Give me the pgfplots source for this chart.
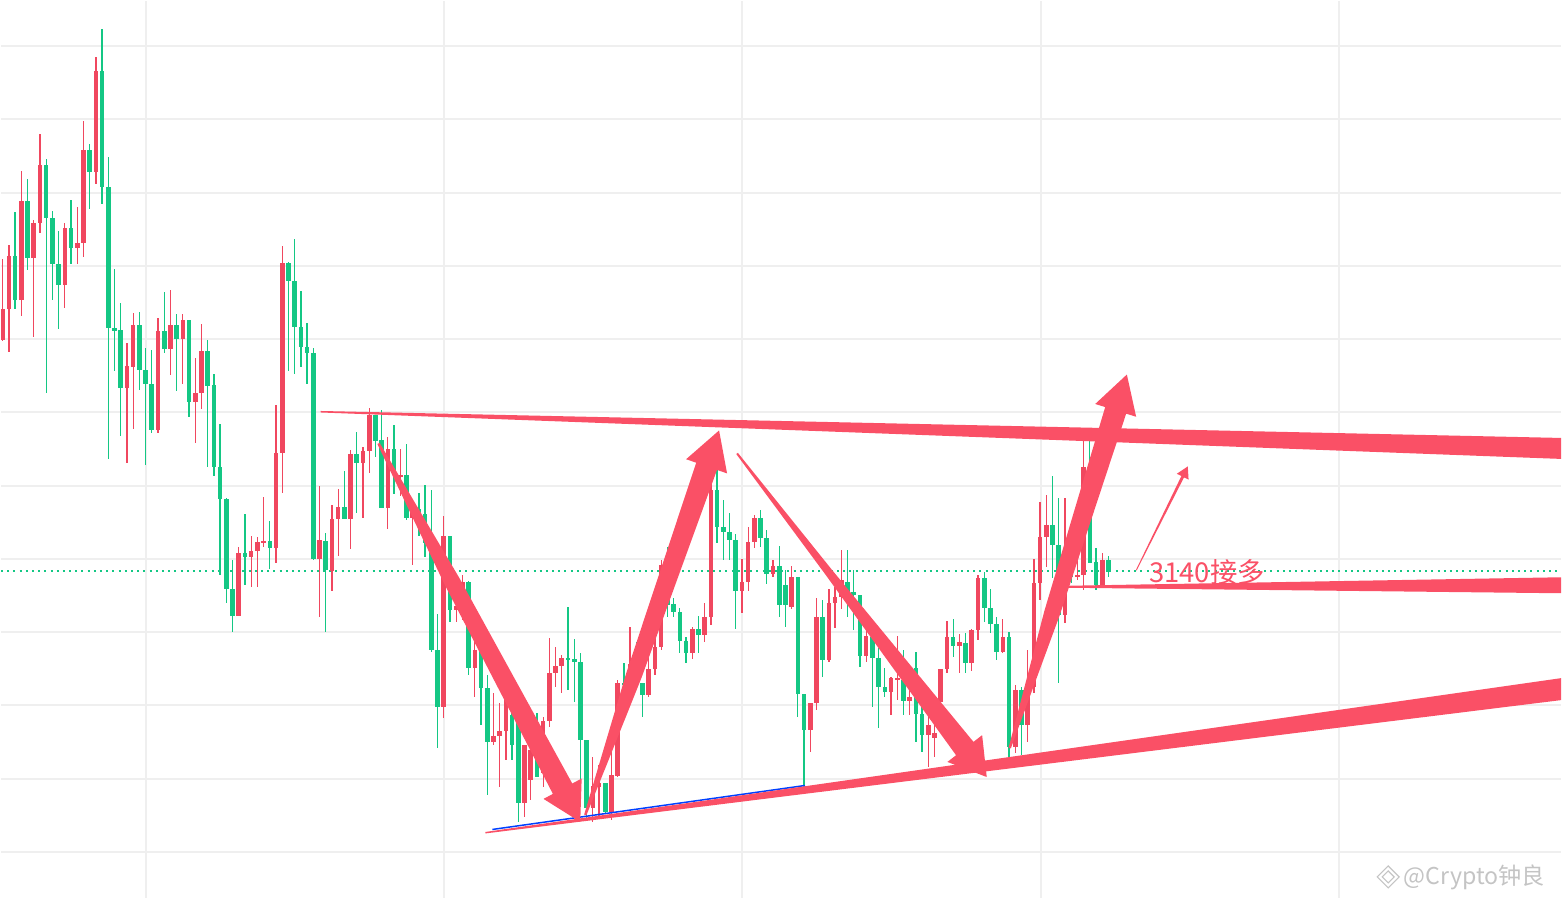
\documentclass[border=0pt]{standalone}
\usepackage{pgfplots}
\pgfplotsset{compat=1.18}
\usepackage{pgfplotstable}
\usepackage{fontspec}
\setmainfont{Liberation Sans}
\newfontfamily\cjk{Noto Sans CJK SC}
\definecolor{cgreen}{HTML}{14C784}
\definecolor{cred}{HTML}{F0475F}
\definecolor{ared}{HTML}{FA5066}
\definecolor{gridc}{HTML}{EFEFEF}
\definecolor{wmark}{HTML}{C4C4C4}

% candle values in picture units (y grows downward): index, high, low, body top, body bottom
\pgfplotstableread{
i hi lo bt bb
2 211 308 255 299
4 178 269 200 257
7 158 393 164 217
8 210 299 217 263
9 230 328 263 284
11 199 263 227 247
14 143 208 149 171
16 28 203 70 186
17 156 459 186 327
18 268 370 327 330
19 302 436 329 387
22 311 389 324 369
23 347 465 369 383
24 349 433 383 430
26 291 352 330 348
28 313 390 324 338
30 319 417 319 402
33 339 467 350 385
34 373 476 384 467
35 424 575 467 499
36 498 603 499 589
37 560 632 589 616
39 514 585 553 557
43 521 569 541 548
46 261 370 262 280
47 238 373 280 326
48 290 366 326 346
49 322 383 346 352
50 347 560 352 559
52 533 632 541 570
55 471 519 507 519
57 432 513 454 463
60 415 457 415 441
61 410 508 440 508
63 425 494 449 475
65 444 520 475 518
67 493 536 509 514
68 485 557 514 543
69 490 652 543 650
70 614 748 650 707
72 536 622 536 610
75 581 675 582 668
77 625 725 650 688
78 675 795 688 742
82 705 760 715 745
83 720 822 720 803
86 713 777 753 777
91 607 690 658 660
92 639 702 659 662
93 653 782 662 740
94 740 818 740 808
97 783 813 783 812
100 663 717 683 685
102 642 680 664 668
103 683 717 683 695
107 547 617 600 605
108 598 617 604 612
109 608 653 612 641
110 637 663 641 653
112 616 653 629 635
115 470 543 490 527
116 500 560 527 532
117 513 560 532 540
118 534 629 540 591
122 510 547 518 538
123 530 584 538 574
125 546 617 566 605
126 570 627 585 605
128 577 717 577 694
129 694 787 694 730
132 600 677 617 660
136 550 617 582 592
137 570 630 592 595
138 595 667 595 656
140 637 707 637 658
141 648 728 658 687
142 668 697 687 692
145 650 715 680 701
147 652 742 668 714
148 682 752 714 735
153 619 657 637 646
155 633 673 643 663
158 572 622 578 608
159 589 633 608 624
160 617 660 624 652
162 632 757 637 747
164 687 755 690 725
169 476 578 525 545
170 498 683 545 615
172 560 583 564 577
175 440 563 505 563
176 548 590 562 585
178 556 577 560 572
}\greendata

\pgfplotstableread{
i hi lo bt bb
0 258 340 308 339
1 244 351 255 308
3 170 315 200 299
5 219 336 222 257
6 133 232 164 222
10 222 307 227 284
12 206 263 242 247
13 120 256 149 242
15 56 183 70 171
20 342 463 365 387
21 312 429 324 366
25 317 433 330 430
27 289 374 324 348
29 313 383 319 338
31 357 443 392 402
32 323 409 350 392
38 547 616 553 616
40 536 587 551 557
41 537 587 542 551
42 497 547 541 543
44 405 563 453 548
45 245 493 262 453
51 486 617 540 559
53 505 591 519 571
54 489 556 507 519
56 450 549 454 519
58 447 518 451 463
59 408 473 415 451
62 437 529 449 508
64 449 496 475 477
66 499 565 509 518
71 516 718 536 707
73 575 622 606 610
74 575 620 582 606
76 623 697 650 668
79 693 745 736 742
80 703 787 731 736
81 700 760 700 731
84 745 817 745 803
85 740 800 750 780
87 717 787 721 773
88 638 727 673 721
89 647 687 666 673
90 655 693 658 666
95 757 822 786 808
96 765 818 783 787
98 737 820 775 812
99 680 777 683 776
101 627 687 664 683
104 653 697 669 695
105 633 675 647 669
106 560 650 565 647
111 627 659 629 653
113 603 642 617 635
114 473 625 490 617
119 559 613 582 591
120 527 591 542 582
121 515 548 518 542
124 560 577 566 574
127 566 609 577 607
130 703 752 703 730
131 598 710 617 703
133 589 662 603 660
134 587 628 597 603
135 550 609 580 597
139 627 662 636 656
143 677 715 678 692
144 636 700 678 680
146 690 715 697 701
149 713 767 725 735
150 720 757 733 738
151 669 707 669 702
152 621 673 637 669
154 634 673 642 646
156 629 671 630 663
157 575 640 578 630
161 619 653 637 652
163 685 753 690 747
165 650 742 687 725
166 559 693 583 687
167 502 600 537 583
168 495 567 525 537
171 498 623 565 615
173 545 580 575 577
174 440 590 467 575
177 553 586 560 585
}\reddata

\pgfplotsset{
  candle/.style n args={2}{only marks, mark=*, mark size=0pt,
    mark options={draw opacity=0, fill opacity=0}, forget plot,
    error bars/.cd, y dir=both, y explicit, error mark=none,
    error bar style={draw=#1, line width=#2}},
}

\begin{document}
\begin{tikzpicture}
\begin{axis}[
  scale only axis, width=156.2mm, height=89.8mm,
  xmin=0, xmax=1562, ymin=0, ymax=898, y dir=reverse,
  axis line style={draw=none},
  xtick={145,444,742,1041,1340},
  ytick={45,118.5,191.8,265.2,338.5,411.8,485.2,558.5,631.9,705.2,778.5,851.9},
  grid=major, major grid style={gridc, line width=0.2mm},
  xticklabels={}, yticklabels={},
  tick style={draw=none}, major tick length=0pt,
  tick label style={overlay},
  clip=true,
]
% dotted level line
\addplot[color=cgreen, line width=0.2mm, dash pattern=on 0.2mm off 0.42mm, forget plot] coordinates {(0,571) (1562,571)};

% green candles: wicks then bodies
\addplot[candle={cgreen}{0.13mm}]
  table[x expr=1.7+6.22*\thisrow{i}, y expr=0.5*(\thisrow{hi}+\thisrow{lo}), y error expr=0.5*(\thisrow{lo}-\thisrow{hi})] {\greendata};
\addplot[candle={cgreen}{0.46mm}]
  table[x expr=1.7+6.22*\thisrow{i}, y expr=0.5*(\thisrow{bt}+\thisrow{bb}), y error expr=0.5*(\thisrow{bb}-\thisrow{bt})] {\greendata};
% red candles
\addplot[candle={cred}{0.13mm}]
  table[x expr=1.7+6.22*\thisrow{i}, y expr=0.5*(\thisrow{hi}+\thisrow{lo}), y error expr=0.5*(\thisrow{lo}-\thisrow{hi})] {\reddata};
\addplot[candle={cred}{0.46mm}]
  table[x expr=1.7+6.22*\thisrow{i}, y expr=0.5*(\thisrow{bt}+\thisrow{bb}), y error expr=0.5*(\thisrow{bb}-\thisrow{bt})] {\reddata};

% trend lines
\addplot[fill=ared, draw=none, forget plot] coordinates {(320,410.5) (1562,437.5) (1562,458.5) (320,412)} -- cycle;
\addplot[color=blue!75!cyan, line width=0.15mm, forget plot] coordinates {(492,829.5) (805,785.5)};
\addplot[fill=ared, draw=none, forget plot] coordinates {(485,832) (1562,678) (1562,700) (485,833.5)} -- cycle;
\addplot[fill=ared, draw=none, forget plot] coordinates {(1068,585.5) (1562,577) (1562,593) (1068,587.5)} -- cycle;

% arrows
\addplot[fill=ared, draw=none, forget plot] coordinates {(376.9,443.6) (444.6,585.1) (552.6,793.9) (543.2,798.9) (580,822) (581.4,778.5) (572,783.5) (458.8,577.5) (379.1,442.4)} -- cycle;
\addplot[fill=ared, draw=none, forget plot] coordinates {(586.1,815.4) (641.2,678) (716.9,469.5) (727,473) (719,430) (686,458.8) (696.1,462.3) (626.1,672.8) (583.9,814.6)} -- cycle;
\addplot[fill=ared, draw=none, forget plot] coordinates {(736.2,453.6) (825.0,573.6) (956.3,755.2) (947.6,761.9) (987,777) (982.4,735.1) (973.7,741.8) (831.4,568.8) (737.8,452.4)} -- cycle;
\addplot[fill=ared, draw=none, forget plot] coordinates {(1011.1,748.4) (1060,615.2) (1126.6,413.2) (1136.6,416.3) (1127.3,374) (1095.6,403.5) (1105.6,406.6) (1044.8,610.4) (1008.9,747.6)} -- cycle;
\addplot[fill=ared, draw=none, forget plot] coordinates {(1137.1,570.2) (1184.5,477) (1189.1,479.2) (1188.3,466) (1177.3,473.4) (1181.9,475.6) (1136.3,569.8)} -- cycle;

% labels
\node[anchor=west, text=ared, inner sep=0pt, font=\cjk\fontsize{7.8}{9}\selectfont] at (axis cs:1149,572) {3140接多};
\draw[wmark, line width=0.12mm] (axis cs:1389,866) -- (axis cs:1400,877) -- (axis cs:1389,888) -- (axis cs:1378,877) -- cycle;
\draw[wmark, line width=0.12mm] (axis cs:1389,871) -- (axis cs:1395,877) -- (axis cs:1389,883) -- (axis cs:1383,877) -- cycle;
\node[anchor=west, text=wmark, inner sep=0pt, font=\cjk\fontsize{6.6}{8}\selectfont] at (axis cs:1404,877) {@Crypto钟良};
\end{axis}
\end{tikzpicture}
\end{document}
